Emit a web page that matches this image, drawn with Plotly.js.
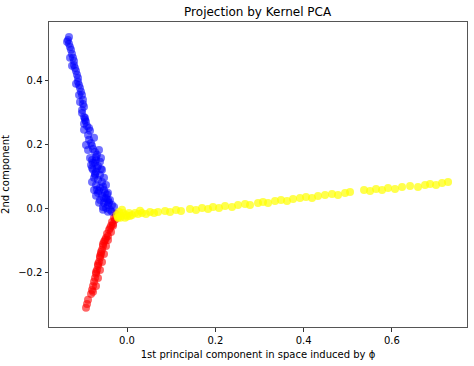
<!DOCTYPE html>
<html>
<head>
<meta charset="utf-8">
<script src="https://cdn.plot.ly/plotly-3.0.1.min.js"></script>
<style>html,body{margin:0;padding:0;background:#fff;}#chart{width:474px;height:366px;}</style>
</head>
<body>
<div id="chart"></div>
<script>
var blueX = [-0.1314,-0.1336,-0.1314,-0.1291,-0.1268,-0.1246,-0.1223,-0.1201,-0.1201,-0.1178,-0.1155,-0.1133,-0.111,-0.111,-0.1087,-0.1065,-0.1042,-0.1019,-0.0997,-0.0997,-0.0974,-0.1019,-0.0974,-0.0951,-0.0929,-0.0974,-0.0906,-0.0861,-0.0838,-0.0883,-0.0861,-0.0815,-0.0793,-0.077,-0.0725,-0.068,-0.0589,-0.0793,-0.077,-0.0815,-0.0725,-0.0657,-0.0612,-0.077,-0.0702,-0.0612,-0.0747,-0.0657,-0.0566,-0.0702,-0.0612,-0.0521,-0.0657,-0.0566,-0.0476,-0.0612,-0.0521,-0.043,-0.0476,-0.0385,-0.034,-0.0544,-0.043,-0.0498,-0.0725,-0.0589,-0.0680,-0.0453,-0.0544,-0.0408,
  -0.0793,-0.068,-0.0566,-0.0725,-0.0521,-0.0793,-0.0476,-0.0747,-0.0634,-0.043,-0.0702,-0.0521,-0.0385,-0.0634,-0.0453,-0.034,-0.0544,-0.043,-0.0294,-0.0838,-0.0702,-0.0883,-0.0929,-0.0974,-0.1019,-0.1065,-0.1087,-0.1155,-0.1246,-0.1291,-0.1359,-0.0747,-0.0634,-0.0951,-0.0702];
var blueY = [0.5375,0.528,0.516,0.506,0.497,0.484,0.472,0.4625,0.45,0.4406,0.431,0.419,0.409,0.397,0.3875,0.378,0.366,0.356,0.341,0.328,0.319,0.30,0.2875,0.278,0.272,0.266,0.259,0.253,0.244,0.231,0.216,0.206,0.197,0.1875,0.178,0.169,0.159,0.153,0.144,0.1375,0.144,0.134,0.147,0.122,0.116,0.106,0.097,0.091,0.084,0.075,0.066,0.059,0.05,0.041,0.034,0.028,0.019,0.0125,0.003,-0.003,-0.009,0.006,0.028,0.05,0.110,0.125,0.060,0.045,0.070,0.020,
  0.128,0.128,0.122,0.106,0.097,0.084,0.075,0.059,0.056,0.05,0.041,0.034,0.028,0.019,0.022,0.0125,-0.003,-0.009,0.006,0.159,0.153,0.184,0.2,0.247,0.309,0.334,0.356,0.391,0.447,0.472,0.522,0.222,0.184,0.284,0.1625];
var redX = [-0.0249,-0.0294,-0.034,-0.0362,-0.0408,-0.0453,-0.0476,-0.0521,-0.0544,-0.0566,-0.0589,-0.0612,-0.0634,-0.0657,-0.068,-0.0702,-0.0725,-0.0747,-0.077,-0.0793,-0.0815,-0.0883,-0.0906,-0.0929,-0.0317,-0.0385,-0.0430,-0.0498,-0.0544,-0.0589,-0.0612,-0.0657,-0.0702,
  -0.0272,-0.0317,-0.0362,-0.043,-0.0476,-0.0521,-0.0566,-0.0612,-0.0657,-0.0702,-0.077];
var redY = [-0.0156,-0.028,-0.041,-0.053,-0.066,-0.078,-0.091,-0.103,-0.116,-0.128,-0.141,-0.153,-0.166,-0.178,-0.191,-0.203,-0.216,-0.228,-0.241,-0.253,-0.266,-0.284,-0.297,-0.309,-0.047,-0.060,-0.085,-0.097,-0.110,-0.135,-0.147,-0.172,-0.197,
  -0.034,-0.053,-0.072,-0.097,-0.116,-0.141,-0.166,-0.191,-0.216,-0.241,-0.259];
var yellowX = [-0.0226,-0.0181,-0.0136,-0.0091,-0.0023,0.0045,0.0113,0.0181,0.0249,0.034,0.043,0.0521,0.0612,0.0702,0.0861,0.0974,0.111,0.1223,0.1427,0.1563,0.1699,0.1835,0.1948,0.2084,0.222,0.2378,0.2514,0.2673,0.2786,0.2967,0.308,0.3194,0.3352,0.3488,0.3624,0.376,0.3918,0.4054,0.419,0.4326,0.4485,0.4643,0.4779,0.4938,0.5051,0.5368,0.5504,0.564,0.5776,0.5912,0.607,0.6229,0.641,0.6591,0.675,0.6863,0.6999,0.7135,0.7271,-0.0200,-0.0150,0.0000,
  -0.0204,-0.0113,-0.0045,0.0068,0.0294];
var yellowY = [-0.0188,-0.0094,-0.0219,-0.0125,-0.0188,-0.0125,-0.0188,-0.0125,-0.0156,-0.0125,-0.0156,-0.0094,-0.0125,-0.0094,-0.0063,-0.0094,-0.0031,-0.0063,0.0,-0.0031,0.0031,0.0,0.0063,0.0031,0.0094,0.0063,0.0125,0.0156,0.0125,0.0188,0.0219,0.0188,0.025,0.0281,0.025,0.0313,0.0344,0.0375,0.0344,0.0406,0.0438,0.0469,0.0438,0.05,0.0531,0.0594,0.0563,0.0625,0.0594,0.0656,0.0625,0.0688,0.0719,0.0688,0.075,0.0781,0.075,0.0813,0.0844,-0.0250,-0.0280,-0.0240,
  -0.028,-0.003,-0.028,-0.022,-0.006];
var xTicks = [0, 0.2, 0.4, 0.6];
var yTicks = [-0.2, 0, 0.2, 0.4];

function tr(x, y, color, op) {
  return {x: x, y: y, type: 'scatter', mode: 'markers', hoverinfo: 'none',
    marker: {color: color, size: 8, opacity: op, line: {width: 0}}};
}
var data = [tr(redX, redY, '#ff0000', 0.6), tr(blueX, blueY, '#0000ff', 0.55), tr(yellowX, yellowY, '#ffff00', 0.7)];
var font = {family: 'DejaVu Sans, sans-serif', size: 10, color: '#000'};
var layout = {
  width: 474, height: 366, showlegend: false,
  paper_bgcolor: '#fff', plot_bgcolor: '#fff',
  margin: {l: 49, r: 7, t: 22, b: 39, pad: 0},
  font: font,
  title: {text: 'Projection by Kernel PCA', font: {family: 'DejaVu Sans, sans-serif', size: 12, color: '#000'}, x: 0.5435, xanchor: 'center', y: 0.967, yanchor: 'middle'},
  xaxis: {range: [-0.1767, 0.770], tickvals: xTicks, tickformat: '.1f', ticks: 'outside', ticklen: 3.5, tickcolor: '#333',
    showgrid: false, zeroline: false, showline: true, mirror: true, linecolor: '#555', linewidth: 1,
    tickfont: font, title: {text: '1st principal component in space induced by \u03d5', font: font, standoff: 6}},
  yaxis: {range: [-0.369, 0.584], tickvals: yTicks, tickformat: '.1f', ticks: 'outside', ticklen: 3.5, tickcolor: '#333',
    showgrid: false, zeroline: false, showline: true, mirror: true, linecolor: '#555', linewidth: 1,
    tickfont: font, title: {text: '2nd component', font: font, standoff: 8}}
};
Plotly.newPlot('chart', data, layout, {displayModeBar: false, staticPlot: true});
</script>
</body>
</html>
